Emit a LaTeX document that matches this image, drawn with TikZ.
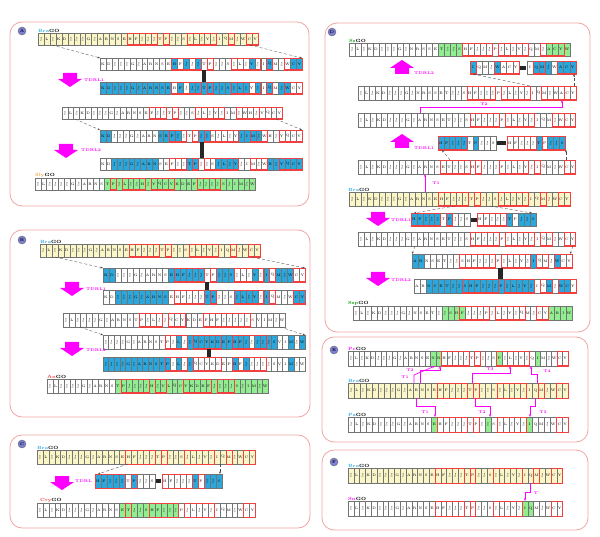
\documentclass[tikz,border=0pt]{standalone}
\usetikzlibrary{arrows.meta}
\definecolor{yel}{HTML}{FBF6C8}
\definecolor{blu}{HTML}{2AA7DD}
\definecolor{grn}{HTML}{90EE90}
\definecolor{pbd}{HTML}{F2A3A3}
\definecolor{mag}{HTML}{FF00FF}
\definecolor{cir}{HTML}{7B7FD6}
\definecolor{redc}{HTML}{F04040}
\tikzset{
 panel/.style={draw=pbd,line width=0.8pt,rounded corners=12pt},
 cell/.style={draw=black!55,line width=0.25pt},
 let/.style={font=\fontsize{3.6}{4}\selectfont,inner sep=0},
 rlet/.style={font=\fontsize{2.3}{2.5}\selectfont,inner sep=0,rotate=90},
 plab/.style={circle,fill=cir,draw=black!60,minimum size=8pt,inner sep=0,font=\fontsize{4}{4}\selectfont\bfseries},
 glab/.style={font=\fontsize{4.5}{5}\selectfont\bfseries,inner sep=0,anchor=south west},
 tl/.style={font=\fontsize{4}{5}\selectfont\bfseries,text=mag,inner sep=0},
 tdl/.style={font=\fontsize{4}{5}\selectfont\bfseries,text=mag,inner sep=0,anchor=west},
 dsh/.style={densely dashed,black!70,line width=0.35pt,-{Stealth[length=2.5pt]}},
 tcon/.style={mag,line width=0.7pt,-{Stealth[length=3pt]}},
 bar/.style={fill=black!85},
}
\def\ss{s}
\newcommand\setrow[4]{\def\rx{#1}\def\ry{#2}\def\rw{#3}\def\rh{#4}}
\newcommand\bg[2]{\fill[#2] (\rx,\ry) rectangle ({\rx+#1*\rw},{\ry+\rh});}
\newcommand\hl[3]{\fill[#3] ({\rx+(#1-1)*\rw},\ry) rectangle ({\rx+#2*\rw},{\ry+\rh});}
\newcommand\fin[1]{\foreach \l [count=\i] in #1 {\draw[cell] ({\rx+(\i-1)*\rw},\ry) rectangle +(\rw,\rh);
 \ifx\l\ss \node[rlet] at ({\rx+(\i-0.5)*\rw},{\ry+\rh/2}) {Ser};\else\node[let] at ({\rx+(\i-0.5)*\rw},{\ry+\rh/2}) {\l};\fi}}
\newcommand\rd[2]{\draw[redc,line width=0.35pt] ({\rx+(#1-1)*\rw},\ry) rectangle ({\rx+#2*\rw},{\ry+\rh});
 \draw[redc,line width=1pt] ({\rx+(#1-1)*\rw},{\ry+\rh}) -- ({\rx+#2*\rw},{\ry+\rh});}
\newcommand\braRd{\rd{16}{20}\rd{22}{22}\rd{26}{30}\rd{33}{33}\rd{36}{37}}
\newcommand\downarr[2]{\fill[mag] (#1-7,#2-6) -- (#1+7,#2-6) -- (#1+7,#2) -- (#1+12,#2) -- (#1,#2+8) -- (#1-12,#2) -- (#1-7,#2) -- cycle;}
\newcommand\uparr[2]{\fill[mag] (#1-7,#2+6) -- (#1+7,#2+6) -- (#1+7,#2) -- (#1+12,#2) -- (#1,#2-8) -- (#1-12,#2) -- (#1-7,#2) -- cycle;}
\def\SA{s,L,s,K,D,s,s,s,G,s,A,R,N,S,E,H,F,s,s,s,T,P,s,s,S,s,L,s,Y,s,I,Q,M,s,W,C,Y}
\def\SB{K,D,s,s,s,G,s,A,R,N,S,E,H,F,s,s,s,T,P,s,s,S,s,L,s,Y,s,I,Q,M,s,W,C,Y}
\def\SC{s,L,s,K,D,s,s,s,G,s,A,R,N,S,E,F,s,s,T,P,s,s,S,s,L,s,Y,s,I,M,s,W,H,s,Y,Q,C,Y}
\def\SD{K,D,s,s,s,G,s,A,R,N,S,E,F,s,s,T,P,s,s,S,s,L,s,Y,s,I,M,s,W,H,s,Y,Q,C,Y}
\def\SE{s,L,s,s,s,s,G,s,A,R,N,S,T,P,s,L,s,s,H,s,Y,Q,C,Y,K,D,E,F,s,s,s,s,S,s,I,M,s,W}
\def\SF{s,L,s,s,s,s,G,s,A,R,N,S,T,P,s,L,s,s,Q,C,Y,K,D,E,F,H,F,s,s,s,s,s,S,V,I,M,s,W}
\def\SG{s,s,s,s,G,s,A,R,N,S,T,P,s,L,s,s,Q,C,Y,K,D,E,F,H,F,s,s,s,s,s,S,V,I,M,s,W}
\def\SH{s,L,s,s,s,s,G,s,A,R,N,S,T,P,s,s,s,s,H,s,V,L,Q,C,Y,K,D,E,F,s,s,s,s,S,s,I,M,s,W}
\def\SP{H,F,s,s,s,T,P,s,s,S}
\def\SQ{s,L,s,K,D,s,s,s,G,s,A,R,N,S,E,T,s,s,S,H,F,s,s,s,P,s,L,s,Y,s,I,Q,M,s,W,C,Y}
\def\SS{s,L,s,K,D,s,s,s,G,s,N,R,S,S,E,T,s,s,S,H,F,s,s,s,P,s,L,s,Y,s,Q,M,s,A,C,Y,W}
\def\SR{I,Q,M,s,W,A,C,Y}
\def\ST{s,L,s,K,D,s,s,s,G,s,N,R,S,S,E,T,s,s,S,H,F,s,s,s,P,s,L,s,Y,s,I,Q,M,s,W,A,C,Y}
\def\SU{s,L,s,K,D,s,s,s,G,s,A,R,N,S,E,T,s,s,S,H,F,s,s,s,P,s,L,s,Y,s,I,Q,M,s,W,C,Y}
\def\SV{A,R,N,S,E,T,s,s,S,H,F,s,s,s,P,s,L,s,Y,s,I,Q,M,s,W,C,Y}
\def\SW{s,L,s,K,D,s,s,s,G,s,N,S,E,T,s,s,S,H,F,s,s,s,P,s,L,s,Y,s,Q,M,s,C,Y,A,R,I,W}
\def\SX{s,L,s,K,D,s,s,s,G,s,A,R,N,S,E,N,R,H,F,s,s,s,T,P,s,s,S,P,s,L,s,Y,s,Q,I,M,s,W,C,Y}
\begin{document}
\begin{tikzpicture}[x=1pt,y=-1pt]
\useasboundingbox (0,0) rectangle (600,537);
% ---------- panels
\draw[panel] (10,22) rectangle (309,206);
\draw[panel] (10,230) rectangle (310,417);
\draw[panel] (10,435) rectangle (310,528);
\draw[panel] (325,23) rectangle (590,332);
\draw[panel] (322,337) rectangle (588,442);
\draw[panel] (322,450) rectangle (588,530);
\node[plab] (pA) at (22,31) {A};
\node[plab] (pB) at (22,240) {B};
\node[plab] (pC) at (22,444) {C};
\node[plab] (pD) at (332,32) {D};
\node[plab] (pE) at (334,350) {E};
\node[plab] (pF) at (334,462) {F};
% ================= PANEL A
\node[glab] (a0) at (38,32.5) {\textcolor{blu}{Bra}GO};
\setrow{38}{33}{5.95}{12}\bg{37}{yel}\fin\SA\braRd
\coordinate (a1l) at (52,45); \coordinate (a1r) at (250,45);
\setrow{100}{58}{5.95}{12}\bg{34}{white}\hl{13}{13}{blu}\hl{15}{15}{blu}\hl{17}{17}{blu}\hl{26}{26}{blu}\hl{29}{29}{blu}\hl{33}{34}{blu}\fin\SB
\rd{13}{17}\rd{19}{19}\rd{23}{27}\rd{29}{29}\rd{32}{34}
\coordinate (a2l) at (100,58); \coordinate (a2r) at (302,58);
\draw[dsh] (a1l) -- (a2l); \draw[dsh] (a1r) -- (a2r);
\setrow{100}{82}{5.95}{12}\bg{34}{white}\hl{1}{12}{blu}\hl{14}{14}{blu}\hl{16}{25}{blu}\hl{27}{27}{blu}\hl{29}{29}{blu}\hl{31}{32}{blu}\fin\SB
\rd{13}{17}\rd{19}{19}\rd{23}{27}\rd{29}{29}\rd{32}{34}
\fill[bar] (202,70) rectangle (206,82);
\downarr{70}{79}\node[tdl] (ta1) at (84,80) {TDRL1};
\setrow{62}{107}{5.8}{12}\bg{38}{white}\fin\SC
\rd{16}{18}\rd{20}{20}\rd{24}{28}\rd{31}{34}\rd{35}{38}
\coordinate (a4l) at (75,119); \coordinate (a4r) at (276,119);
\setrow{100}{130}{5.77}{12}\bg{35}{white}\hl{1}{2}{blu}\hl{11}{14}{blu}\hl{18}{19}{blu}\hl{25}{28}{blu}\fin\SD
\rd{13}{15}\rd{17}{17}\rd{19}{24}\rd{27}{29}\rd{32}{35}
\coordinate (a5l) at (100,130); \coordinate (a5r) at (302,130);
\draw[dsh] (a4l) -- (a5l); \draw[dsh] (a4r) -- (a5r);
\setrow{100}{158}{5.77}{12}\bg{35}{white}\hl{3}{10}{blu}\hl{16}{17}{blu}\hl{21}{24}{blu}\hl{30}{35}{blu}\fin\SD
\rd{13}{15}\rd{17}{17}\rd{19}{24}\rd{27}{29}\rd{32}{35}
\fill[bar] (200,142) rectangle (204,158);
\downarr{66}{150}\node[tdl] (ta2) at (81,150) {TDRL2};
\node[glab] (a7) at (35,177.5) {\textcolor{orange!80}{Sly}GO};
\setrow{35}{178}{5.8}{12}\bg{38}{white}\hl{13}{38}{grn}\fin\SE
\rd{14}{14}\rd{16}{19}\rd{21}{24}\rd{29}{32}
% ================= PANEL B
\node[glab] (b0) at (40,243.5) {\textcolor{blu}{Bra}GO};
\setrow{40}{244}{5.95}{13}\bg{37}{yel}\fin\SA\braRd
\coordinate (b1l) at (55,257); \coordinate (b1r) at (252,257);
\setrow{103}{268}{5.95}{14}\bg{34}{white}\hl{1}{2}{blu}\hl{12}{17}{blu}\hl{20}{22}{blu}\hl{26}{26}{blu}\hl{28}{28}{blu}\hl{30}{32}{blu}\fin\SB
\rd{13}{17}\rd{19}{19}\rd{23}{27}\rd{29}{29}\rd{33}{34}
\coordinate (b2l) at (103,268); \coordinate (b2r) at (305,268);
\draw[dsh] (b1l) -- (b2l); \draw[dsh] (b1r) -- (b2r);
\setrow{103}{290}{5.95}{14}\bg{34}{white}\hl{3}{11}{blu}\hl{18}{19}{blu}\hl{23}{26}{blu}\hl{28}{28}{blu}\hl{33}{34}{blu}\fin\SB
\rd{13}{17}\rd{19}{19}\rd{23}{27}\rd{29}{29}\rd{33}{34}
\fill[bar] (205,282) rectangle (209,290);
\downarr{72}{288}\node[tdl] (tb1) at (86,289) {TDRL1};
\setrow{63}{313}{5.84}{14}\bg{38}{white}\fin\SF
\rd{14}{17}\rd{19}{21}\rd{25}{32}
\coordinate (b4l) at (80,327); \coordinate (b4r) at (280,327);
\setrow{103}{335}{5.61}{14}\bg{36}{white}\hl{14}{14}{blu}\hl{16}{26}{blu}\hl{28}{31}{blu}\hl{34}{34}{blu}\hl{36}{36}{blu}\fin\SG
\rd{12}{15}\rd{17}{21}\rd{24}{29}
\coordinate (b5l) at (103,335); \coordinate (b5r) at (305,335);
\draw[dsh] (b4l) -- (b5l); \draw[dsh] (b4r) -- (b5r);
\setrow{103}{357}{5.61}{14}\bg{36}{white}\hl{1}{12}{blu}\hl{14}{14}{blu}\hl{16}{16}{blu}\hl{24}{24}{blu}\hl{26}{26}{blu}\hl{34}{34}{blu}\fin\SG
\rd{12}{15}\rd{17}{21}\rd{24}{29}
\fill[bar] (207,349) rectangle (211,357);
\downarr{72}{348}\node[tdl] (tb2) at (86,350) {TDRL2};
\node[glab] (b7) at (47,378.5) {\textcolor{redc}{An}GO};
\setrow{47}{379}{5.67}{14}\bg{39}{white}\hl{13}{39}{grn}\fin\SH
\rd{14}{18}\rd{20}{21}\rd{25}{29}\rd{31}{33}
% ================= PANEL C
\node[glab] (c0) at (37,449.5) {\textcolor{blu}{Bra}GO};
\setrow{37}{450}{5.9}{14}\bg{37}{yel}\fin\SA\braRd
\coordinate (c1l) at (128,464); \coordinate (c1r) at (220,464);
\setrow{95}{474}{6}{14}\bg{10}{white}\hl{1}{5}{blu}\hl{7}{7}{blu}\fin\SP\rd{1}{5}\rd{7}{7}
\coordinate (c2l) at (98,474);
\setrow{162}{474}{6}{14}\bg{10}{white}\hl{6}{6}{blu}\hl{8}{10}{blu}\fin\SP\rd{1}{5}\rd{7}{7}
\coordinate (c2r) at (220,474);
\fill[bar] (156,479) rectangle (161,483);
\draw[dsh] (c1l) -- (c2l); \draw[dsh] (c1r) -- (c2r);
\downarr{62}{482}\node[tdl] (tc) at (75,481) {TDRL};
\node[glab] (c3) at (40,502.5) {\textcolor{redc}{Cry}GO};
\setrow{37}{503}{5.9}{14}\bg{37}{white}\hl{15}{24}{grn}\fin\SQ
\rd{16}{16}\rd{20}{24}\rd{26}{30}\rd{36}{37}
% ================= PANEL D
\node[glab] (d0) at (349,42.5) {\textcolor{green!60!black}{Ss}GO};
\setrow{349}{43}{5.97}{13}\bg{37}{white}\hl{16}{19}{grn}\hl{34}{37}{grn}\fin\SS\rd{20}{24}\rd{26}{30}\rd{33}{36}
\setrow{470}{61}{6.1}{13}\bg{8}{white}\hl{1}{1}{blu}\hl{5}{5}{blu}\fin\SR\rd{1}{1}\rd{5}{8}
\coordinate (d2l) at (473,74);
\setrow{527}{61}{6.1}{13}\bg{8}{white}\hl{2}{4}{blu}\hl{6}{8}{blu}\fin\SR\rd{2}{3}\rd{6}{8}
\coordinate (d2r) at (574,74);
\fill[bar] (520,66) rectangle (526,70);
\uparr{402}{68}\node[tdl] (td2) at (414,73) {TDRL2};
\setrow{358}{86}{5.73}{14}\bg{38}{white}\fin\ST\rd{20}{24}\rd{26}{30}\rd{33}{36}\rd{37}{38}
\coordinate (d3l) at (530,86); \coordinate (d3r) at (574,86);
\draw[dsh] (d3l) -- (d2l); \draw[dsh] (d3r) -- (d2r);
\setrow{358}{113}{5.88}{14}\bg{37}{white}\fin\SU\rd{20}{24}\rd{26}{30}\rd{34}{35}\rd{36}{37}
\coordinate (t2a) at (420,113); \coordinate (t2b) at (562,100);
\draw[tcon] (t2a) -- (420,107) -- (562,107) -- (t2b);
\node[tl] (lt2) at (484,104) {T2};
\setrow{438}{136}{5.8}{14}\bg{10}{white}\hl{1}{5}{blu}\hl{7}{7}{blu}\fin\SP\rd{1}{5}
\setrow{507}{136}{5.8}{14}\bg{10}{white}\hl{6}{6}{blu}\hl{8}{10}{blu}\fin\SP\rd{1}{5}\rd{7}{10}
\fill[bar] (497,141) rectangle (506,145);
\uparr{402}{142}\node[tdl] (td1) at (414,148) {TDRL1};
\setrow{358}{160}{5.88}{14}\bg{37}{white}\fin\SU\rd{15}{19}\rd{21}{21}\rd{25}{29}\rd{31}{31}\rd{36}{37}
\coordinate (d6l) at (450,160); \coordinate (d6r) at (566,160);
\draw[dsh] (d6l) -- (442,150); \draw[dsh] (d6r) -- (566,150);
\coordinate (t1a) at (425,192); \coordinate (t1b) at (425,174);
\draw[tcon] (t1a) -- (t1b); \node[tl] (lt1) at (436,183) {T1};
\node[glab] (d7) at (348,191.5) {\textcolor{blu}{Bra}GO};
\setrow{349}{192}{5.97}{14}\bg{37}{yel}\fin\SA\braRd
\setrow{411}{213}{5.9}{13}\bg{10}{white}\hl{1}{5}{blu}\hl{7}{7}{blu}\fin\SP\rd{1}{5}\rd{7}{7}
\coordinate (d8l) at (414,213);
\setrow{477}{213}{5.9}{13}\bg{10}{white}\hl{6}{6}{blu}\hl{8}{10}{blu}\fin\SP\rd{1}{5}
\coordinate (d8r) at (532,213);
\fill[bar] (471,218) rectangle (477,222);
\draw[dsh] (455,206) -- (d8l); \draw[dsh] (490,206) -- (d8r);
\downarr{378}{218}\node[tdl] (td3) at (391,220) {TDRL1};
\setrow{358}{232}{5.88}{14}\bg{37}{white}\fin\SU\rd{20}{24}\rd{26}{30}\rd{32}{33}\rd{36}{37}
\setrow{412}{254}{5.93}{14}\bg{27}{white}\hl{1}{2}{blu}\hl{21}{21}{blu}\hl{25}{25}{blu}\fin\SV\rd{9}{14}\rd{16}{20}\rd{22}{23}\rd{25}{27}
\draw[dsh] (415,246) -- (412,254); \draw[dsh] (573,246) -- (570,254);
\setrow{414}{279}{6}{14}\bg{27}{white}\hl{3}{20}{blu}\hl{23}{23}{blu}\hl{25}{26}{blu}\fin\SV\rd{9}{14}\rd{16}{20}\rd{22}{23}\rd{25}{27}
\fill[bar] (498,268) rectangle (503,279);
\downarr{378}{278}\node[tdl] (td4) at (391,280) {TDRL2};
\node[glab] (d12) at (348,305.5) {\textcolor{green!60!black}{Ssp}GO};
\setrow{353}{306}{5.92}{14}\bg{37}{white}\hl{16}{19}{grn}\hl{34}{37}{grn}\fin\SW\rd{19}{23}\rd{25}{29}\rd{32}{33}
% ================= PANEL E
\node[glab] (e0) at (348,350.5) {\textcolor{mag}{Pc}GO};
\setrow{348}{351}{5.5}{15}\bg{40}{white}\hl{16}{17}{grn}\hl{28}{28}{grn}\hl{35}{35}{grn}\fin\SX\rd{18}{22}\rd{24}{24}\rd{28}{33}\rd{39}{40}
\node[glab] (e1) at (348,382.5) {\textcolor{blu}{Bra}GO};
\setrow{348}{383}{5.95}{15}\bg{37}{yel}\fin\SA\braRd
\node[glab] (e2) at (348,416.5) {\textcolor{blu}{Pa}GO};
\setrow{348}{417}{5.95}{15}\bg{37}{white}\hl{15}{15}{grn}\hl{24}{24}{grn}\hl{31}{31}{grn}\fin\SA\rd{16}{20}\rd{22}{22}\rd{26}{30}\rd{36}{37}
\coordinate (u1) at (414,383); \coordinate (u2) at (420,383);
\coordinate (v1) at (435,366); \coordinate (v2) at (440,366);
\draw[tcon] (u1) -- (414,375) -- (v1);
\draw[tcon] (u2) -- (420,370) -- (440,370) -- (v2);
\node[tl] (le1) at (405,377) {T1}; \node[tl] (le2) at (410,370) {T2};
\coordinate (u3) at (472,383); \coordinate (v3) at (510,366);
\draw[tcon] (u3) -- (472,373) -- (510,373) -- (v3); \node[tl] (le3) at (490,369) {T3};
\coordinate (u4) at (537,383); \coordinate (v4) at (531,366);
\draw[tcon] (u4) -- (537,374) -- (531,374) -- (v4); \node[tl] (le4) at (547,371) {T4};
\coordinate (w1) at (416,398); \coordinate (x1) at (435,417);
\draw[tcon] (w1) -- (416,406) -- (435,406) -- (x1); \node[tl] (lf1) at (425,412) {T1};
\coordinate (w2) at (475,398); \coordinate (x2) at (490,417);
\draw[tcon] (w2) -- (475,406) -- (490,406) -- (x2); \node[tl] (lf2) at (482,412) {T2};
\coordinate (w3) at (535,398); \coordinate (x3) at (530,417);
\draw[tcon] (w3) -- (535,406) -- (530,406) -- (x3); \node[tl] (lf3) at (543,412) {T3};
% ================= PANEL F
\node[glab] (f0) at (348,467.5) {\textcolor{blu}{Bra}GO};
\setrow{348}{468}{5.8}{15}\bg{37}{yel}\fin\SA\braRd
\node[glab] (f1) at (348,500.5) {\textcolor{mag}{Sn}GO};
\setrow{348}{501}{5.8}{15}\bg{37}{white}\hl{31}{32}{grn}\fin\SA\rd{16}{20}\rd{22}{22}\rd{26}{30}\rd{36}{37}
\coordinate (g1) at (530,483); \coordinate (g2) at (525,501);
\draw[tcon] (g1) -- (530,492) -- (525,492) -- (g2);
\node[tl] (lg) at (536,493) {T};
\end{tikzpicture}
\end{document}
